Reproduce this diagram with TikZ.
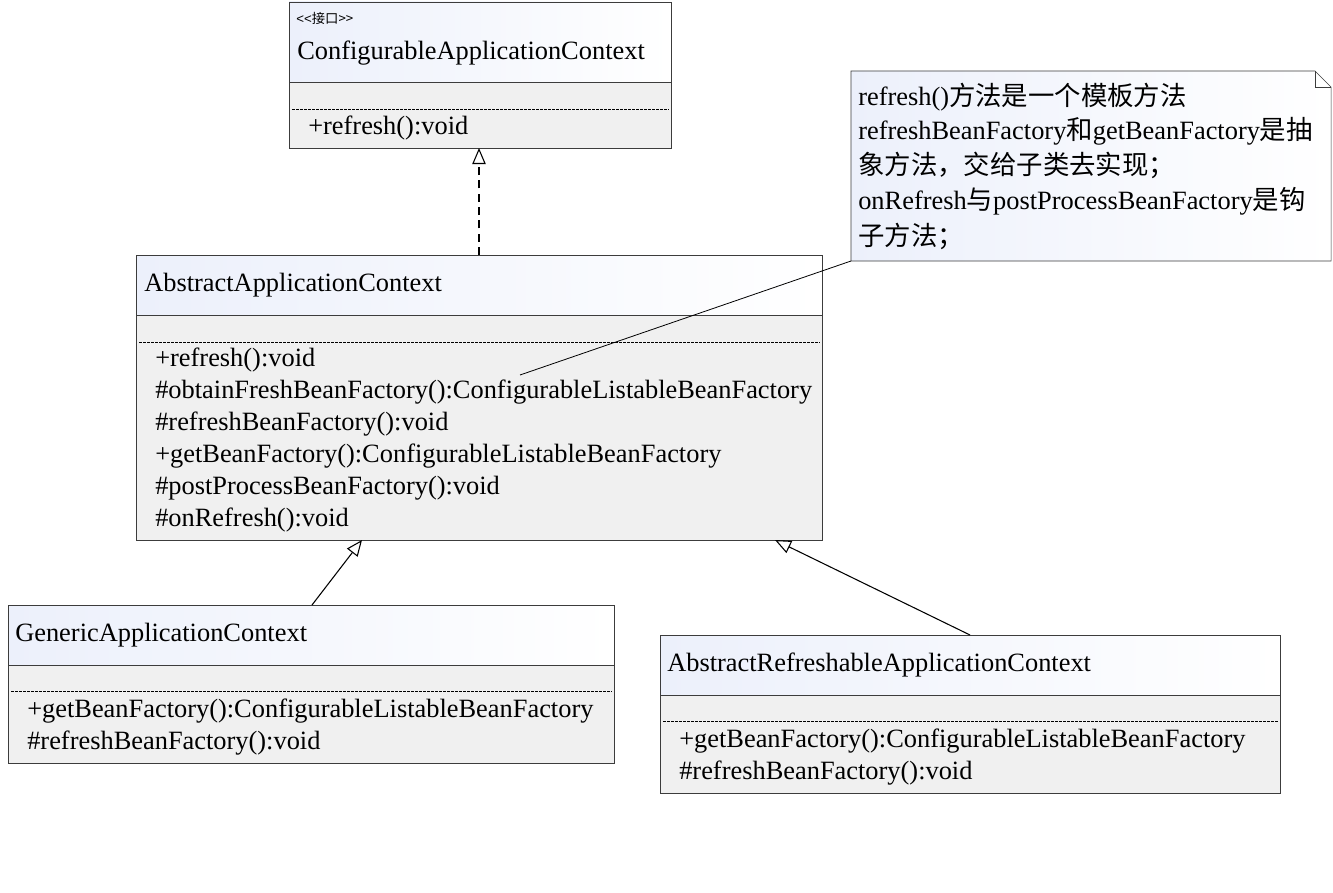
\documentclass[tikz,border=0pt]{standalone}
\usepackage{fontspec}
\setmainfont{Liberation Serif}
\newfontfamily\cjk{Noto Sans CJK SC}
\newfontfamily\stereo{Liberation Sans}
\usetikzlibrary{positioning,calc,arrows.meta,shapes.symbols}

\definecolor{bodygray}{RGB}{240,240,240}
\definecolor{headblue}{RGB}{236,240,251}
\definecolor{linegray}{RGB}{60,60,60}

\tikzset{
  box/.style={draw=linegray,fill=bodygray,anchor=north west,inner sep=0pt},
  head/.style={left color=headblue,right color=white,draw=linegray},
  txt/.style={anchor=west,inner sep=0pt,font=\fontsize{19.8}{22}\selectfont},
  sep/.style={dash pattern=on 2pt off 1pt,line width=0.6pt},
  realize/.style={dash pattern=on 6pt off 4pt,line width=0.8pt,-{Triangle[open,length=12pt,width=10pt]}},
  inherit/.style={line width=0.8pt,-{Triangle[open,length=12pt,width=10pt]}},
}

% box: name, x, y, width, height, header height, dash offset
\newcommand{\umlbox}[7]{%
  \node[box,minimum width=#4*0.75pt,minimum height=#5*0.75pt] (#1) at (#2,#3) {};
  \path[head] (#1.north west) rectangle ($(#1.north east)+(0,#6)$);
  \draw[linegray] (#1.north west) rectangle (#1.south east);
  \draw[sep] ($(#1.north west)+(3,#7)$) -- ($(#1.north east)+(-3,#7)$);
}

\begin{document}
\begin{tikzpicture}[x=0.75pt,y=-0.75pt]
\useasboundingbox (0,0) rectangle (1333,892);

% interface
\umlbox{cac}{289}{2}{382}{146}{80}{107}
\node[anchor=west,inner sep=0pt,font=\stereo\fontsize{10}{11}\selectfont] (cacst) at (296,18) {<<\cjk 接口>>};
\node[txt] (cacn) at (297,53) {ConfigurableApplicationContext};
\node[txt] (cacm) at (308,128) {+refresh():void};

% abstract class
\umlbox{aac}{136}{255}{686}{285}{60}{87}
\node[txt] (aacn) at (144,285) {AbstractApplicationContext};
\node[txt] (m1) at (155,360) {+refresh():void};
\node[txt] (m2) at (155,392) {\#obtainFreshBeanFactory():ConfigurableListableBeanFactory};
\node[txt] (m3) at (155,424) {\#refreshBeanFactory():void};
\node[txt] (m4) at (155,456) {+getBeanFactory():ConfigurableListableBeanFactory};
\node[txt] (m5) at (155,488) {\#postProcessBeanFactory():void};
\node[txt] (m6) at (155,520) {\#onRefresh():void};

% subclasses
\umlbox{gac}{8}{605}{606}{158}{60}{86}
\node[txt] (gacn) at (15,635) {GenericApplicationContext};
\node[txt] (g1) at (27,711) {+getBeanFactory():ConfigurableListableBeanFactory};
\node[txt] (g2) at (27,743) {\#refreshBeanFactory():void};

\umlbox{arac}{660}{635}{620}{158}{60}{86}
\node[txt] (aracn) at (667,665) {AbstractRefreshableApplicationContext};
\node[txt] (r1) at (679,741) {+getBeanFactory():ConfigurableListableBeanFactory};
\node[txt] (r2) at (679,773) {\#refreshBeanFactory():void};

% note
\coordinate (nw) at (851,71);
\coordinate (fold) at (1315,71);
\path[left color=headblue,right color=white,draw=linegray]
  (nw) -- (fold) -- (1331,87) -- (1331,261) -- (851,261) -- cycle;
\draw[linegray] (fold) -- (1315,87) -- (1331,87);
\node[txt] (n1) at (858,97) {refresh()\cjk 方法是一个模板方法};
\node[txt] (n2) at (858,131) {refreshBeanFactory\cjk 和\rmfamily getBeanFactory\cjk 是抽};
\node[txt] (n3) at (858,165) {\cjk 象方法，交给子类去实现；};
\node[txt] (n4) at (858,201) {onRefresh\cjk 与\rmfamily postProcessBeanFactory\cjk 是钩};
\node[txt] (n5) at (858,236) {\cjk 子方法；};
\coordinate (notefoot) at (851,261);
\coordinate (notetip) at (520,375);

% connectors
\coordinate (realfrom) at (479,255);
\coordinate (realto) at (479,148);
\coordinate (g) at (312,605);
\coordinate (ga) at (362,540);
\coordinate (r) at (970,635);
\coordinate (ra) at (775,540);
\draw[realize] (realfrom) -- (realto);
\draw[inherit] (g) -- (ga);
\draw[inherit] (r) -- (ra);
\draw[line width=0.6pt] (notefoot) -- (notetip);
\end{tikzpicture}
\end{document}
